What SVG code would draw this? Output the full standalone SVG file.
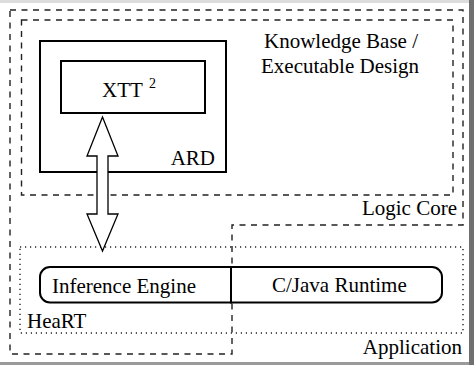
<svg xmlns="http://www.w3.org/2000/svg" width="474" height="365" viewBox="0 0 474 365">
<style>
text{font-family:"Liberation Serif","Times New Roman",serif;font-size:21px;fill:#000}
.dash{fill:none;stroke:#222;stroke-width:1.4;stroke-dasharray:6 5.5}
.dot{fill:none;stroke:#222;stroke-width:1.4;stroke-dasharray:1.2 3.8}
.solid{fill:#fff;stroke:#000;stroke-width:2}
</style>
<rect width="474" height="365" fill="#fff"/>
<g id="application">
<rect x="0" y="0" width="474" height="3" fill="#dcdcdc"/>
<rect x="0" y="362" width="474" height="3" fill="#9a9a9a"/>
<rect x="469" y="0" width="5" height="365" fill="#707070"/>
<text x="462" y="354" text-anchor="end">Application</text>
</g>
<g id="logic-core">
<path class="dash" d="M10,10 H463 V225 H232 V354 H10 Z"/>
<text x="457" y="215" text-anchor="end">Logic Core</text>
</g>
<g id="knowledge-base">
<rect class="dash" x="21.5" y="20" width="431.5" height="175"/>
<text x="341" y="48" text-anchor="middle">Knowledge Base /</text>
<text x="340" y="73" text-anchor="middle">Executable Design</text>
</g>
<g id="ard">
<rect class="solid" x="40" y="41" width="186" height="131"/>
<text x="215" y="165" text-anchor="end">ARD</text>
</g>
<g id="xtt">
<rect class="solid" x="61" y="61" width="144" height="52"/>
<text x="102" y="97">XTT</text>
<text x="149" y="88" style="font-size:14px">2</text>
</g>
<g id="heart">
<rect class="dot" x="20" y="247" width="443" height="86"/>
<text x="27" y="328">HeaRT</text>
</g>
<g id="inference-engine">
<path class="solid" d="M231,267 H50 A10,10 0 0 0 40,277 V292.5 A10,10 0 0 0 50,302.5 H231 Z"/>
<text x="52" y="293">Inference Engine</text>
</g>
<g id="runtime">
<path class="solid" d="M231,267 H432 A10,10 0 0 1 442,277 V292.5 A10,10 0 0 1 432,302.5 H231 Z"/>
<text x="272" y="292">C/Java Runtime</text>
</g>
<g id="connectors">
<polygon points="102.5,117 118,156 108,156 108,214 118,214 102.5,251 87,214 97,214 97,156 87,156" fill="#fff" stroke="#000" stroke-width="1.3" stroke-linejoin="miter"/>
</g>
</svg>
